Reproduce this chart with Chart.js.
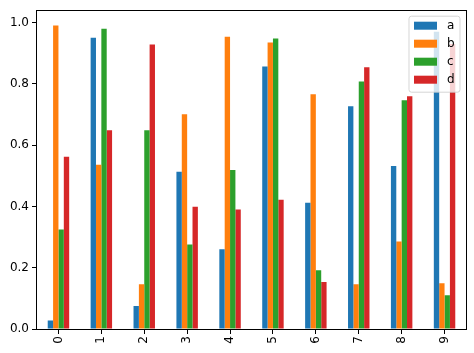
<!DOCTYPE html>
<html>
<head>
<meta charset="utf-8">
<script src="https://cdn.jsdelivr.net/npm/chart.js@4/dist/chart.umd.min.js"></script>
<style>
html,body{margin:0;padding:0;background:#fff;}
#wrap{width:474px;height:353px;}
</style>
</head>
<body>
<div id="wrap"><canvas id="c" width="474" height="353"></canvas></div>
<script>
const categories = ['0','1','2','3','4','5','6','7','8','9'];
const seriesNames = ['a','b','c','d'];
const seriesA = [0.028, 0.951, 0.075, 0.513, 0.260, 0.857, 0.412, 0.727, 0.532, 0.970];
const seriesB = [0.991, 0.536, 0.146, 0.701, 0.954, 0.935, 0.766, 0.146, 0.286, 0.149];
const seriesC = [0.325, 0.980, 0.649, 0.276, 0.519, 0.948, 0.192, 0.808, 0.747, 0.110];
const seriesD = [0.562, 0.649, 0.929, 0.399, 0.390, 0.422, 0.153, 0.854, 0.760, 0.930];
const yTicks = [0, 0.2, 0.4, 0.6, 0.8, 1.0];
const colors = ['#1f77b4', '#ff7f0e', '#2ca02c', '#d62728'];

const allSeries = [seriesA, seriesB, seriesC, seriesD];
const dataMax = Math.max(...allSeries.flat());
const FONT = '"DejaVu Sans", sans-serif';

const framePlugin = {
  id: 'frameAndLegend',
  afterDatasetsDraw(chart) {
    const ctx = chart.ctx;
    const a = chart.chartArea;
    ctx.save();
    // spines
    ctx.strokeStyle = '#000';
    ctx.lineWidth = 1;
    const l = Math.round(a.left) - 0.5, r = Math.round(a.right) + 0.5;
    const t = Math.round(a.top) + 0.5, b = Math.round(a.bottom) + 0.5;
    ctx.strokeRect(l, t, r - l, b - t);
    // legend
    const fs = 12;
    const pad = 6;
    const bw = 51, bh = 76;
    const bx = a.right - pad - bw, by = a.top + pad;
    const rad = 2.5;
    ctx.beginPath();
    ctx.moveTo(bx + rad, by);
    ctx.lineTo(bx + bw - rad, by);
    ctx.quadraticCurveTo(bx + bw, by, bx + bw, by + rad);
    ctx.lineTo(bx + bw, by + bh - rad);
    ctx.quadraticCurveTo(bx + bw, by + bh, bx + bw - rad, by + bh);
    ctx.lineTo(bx + rad, by + bh);
    ctx.quadraticCurveTo(bx, by + bh, bx, by + bh - rad);
    ctx.lineTo(bx, by + rad);
    ctx.quadraticCurveTo(bx, by, bx + rad, by);
    ctx.closePath();
    ctx.fillStyle = 'rgba(255,255,255,0.8)';
    ctx.fill();
    ctx.strokeStyle = 'rgba(204,204,204,0.8)';
    ctx.lineWidth = 1;
    ctx.stroke();
    ctx.font = fs + 'px ' + FONT;
    ctx.textBaseline = 'middle';
    ctx.textAlign = 'left';
    chart.data.datasets.forEach((ds, i) => {
      const cy = by + 9.5 + i * 18;
      ctx.fillStyle = ds.backgroundColor;
      ctx.fillRect(bx + 5, cy - 4, 23, 8);
      ctx.fillStyle = '#000';
      ctx.fillText(ds.label, bx + 38, cy);
    });
    ctx.restore();
  }
};

new Chart(document.getElementById('c'), {
  type: 'bar',
  data: {
    labels: categories,
    datasets: seriesNames.map((n, i) => ({
      label: n,
      data: allSeries[i],
      backgroundColor: colors[i],
      borderWidth: 0,
      categoryPercentage: 0.5,
      barPercentage: 1.0
    }))
  },
  options: {
    responsive: false,
    animation: false,
    devicePixelRatio: 1,
    layout: { padding: { top: 9, right: 8, left: 0, bottom: 0 } },
    plugins: { legend: { display: false }, tooltip: { enabled: false } },
    scales: {
      x: {
        offset: true,
        grid: { display: true, drawOnChartArea: false, drawTicks: true, tickLength: 5, tickColor: '#000', offset: false },
        border: { display: false },
        ticks: { color: '#000', font: { family: FONT, size: 12 }, minRotation: 90, maxRotation: 90, padding: 2, autoSkip: false },
        afterFit(s) { s.height = 24; }
      },
      y: {
        min: 0,
        max: dataMax * 1.05,
        grid: { display: true, drawOnChartArea: false, drawTicks: true, tickLength: 5, tickColor: '#000' },
        border: { display: false },
        afterBuildTicks(s) { s.ticks = yTicks.map(v => ({ value: v })); },
        ticks: { color: '#000', font: { family: FONT, size: 12 }, padding: 3, callback: v => Number(v).toFixed(1) },
        afterFit(s) { s.width = 37; }
      }
    }
  },
  plugins: [framePlugin]
});
</script>
</body>
</html>
